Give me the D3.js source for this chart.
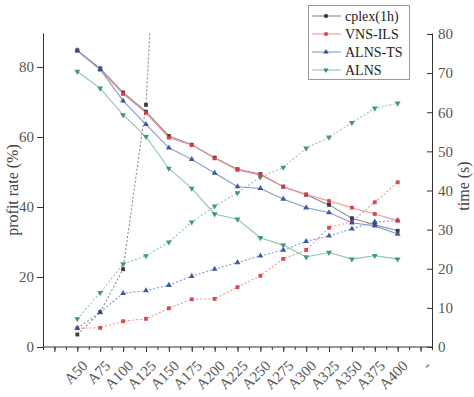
<!DOCTYPE html>
<html>
<head>
<meta charset="utf-8">
<script src="https://cdn.jsdelivr.net/npm/d3@7"></script>
<style>
  html, body { margin: 0; padding: 0; background: #fff; }
  svg text { font-family: "Liberation Serif", "DejaVu Serif", serif; }
</style>
</head>
<body>
<div id="chart"></div>
<script>
// data

const categories = ["A50", "A75", "A100", "A125", "A150", "A175", "A200", "A225",
    "A250", "A275", "A300", "A325", "A350", "A375", "A400"];

// profit rate (%) - left axis, solid lines
const profitCplex = [84.7, 79.6, 72.7, 67.2, 60.3, 57.8, 54.1, 50.8, 49.4, 45.8, 43.5, 40.6, 36.8, 34.9, 33.2];
const profitVNS = [84.7, 79.2, 72.3, 66.9, 59.8, 57.7, 53.9, 50.6, 49.1, 45.8, 43.6, 41.7, 39.8, 38.0, 36.1];
const profitALNSTS = [84.7, 79.3, 70.3, 63.6, 56.9, 53.6, 49.7, 45.8, 45.3, 42.3, 39.8, 38.4, 35.5, 34.6, 32.3];
const profitALNS = [78.7, 73.9, 66.3, 60.1, 51.0, 45.3, 38.0, 36.5, 31.2, 29.1, 25.7, 27.0, 25.1, 26.1, 25.1];

// time (s) - right axis, dotted lines (cplex runs off the top after A125)
const timeCplex = [3.2, 8.9, 19.9, 61.9, 170, null, null, null, null, null, null, null, null, null, null];
const timeVNS = [4.8, 4.9, 6.6, 7.2, 9.9, 12.2, 12.3, 15.3, 18.2, 22.5, 24.8, 30.5, 32.0, 37.0, 42.1];
const timeALNSTS = [4.8, 8.9, 13.7, 14.4, 15.8, 18.1, 19.9, 21.6, 23.3, 24.8, 27.0, 28.4, 30.2, 32.0, 32.3];
const timeALNS = [7.2, 13.9, 21.2, 23.3, 26.8, 31.9, 36.0, 39.4, 43.4, 45.9, 50.8, 53.6, 57.3, 61.0, 62.3];

const seriesNames = ["cplex(1h)", "VNS-ILS", "ALNS-TS", "ALNS"];
const leftTicks = [0, 20, 40, 60, 80];
const rightTicks = [0, 10, 20, 30, 40, 50, 60, 70, 80];

// style per series
const series = [
    { name: seriesNames[0], profit: profitCplex, time: timeCplex, line: "#8a8a8a", dot: "#2a2a2a", shape: d3.symbolSquare },
    { name: seriesNames[1], profit: profitVNS, time: timeVNS, line: "#ee9598", dot: "#d9373f", shape: d3.symbolSquare },
    { name: seriesNames[2], profit: profitALNSTS, time: timeALNSTS, line: "#8697cf", dot: "#2c4b9c", shape: d3.symbolTriangle },
    { name: seriesNames[3], profit: profitALNS, time: timeALNS, line: "#8fc6b1", dot: "#2e8f6b", shape: d3.symbolTriangle, flip: true }
];

const W = 474, H = 397;
const plot = { left: 43, right: 432, top: 33, bottom: 347 };

const svg = d3.select("#chart").append("svg")
    .attr("width", W).attr("height", H);

// index scale: half a step of padding plus one extra tick on the right
const x = d3.scaleLinear().domain([-1.5, 15.5]).range([plot.left, plot.right]);
const yL = d3.scaleLinear().domain([0, 89.7]).range([plot.bottom, plot.top]);
const yR = d3.scaleLinear().domain([0, 80.25]).range([plot.bottom, plot.top]);

svg.append("clipPath").attr("id", "clip")
    .append("rect")
    .attr("x", plot.left).attr("y", plot.top)
    .attr("width", plot.right - plot.left).attr("height", plot.bottom - plot.top);

const tickColor = "#555";

// x axis: minor ticks every half step, major ticks on categories
svg.append("g")
    .attr("transform", `translate(0,${plot.bottom})`)
    .call(d3.axisBottom(x).tickValues(d3.range(-1.5, 15.6, 0.5)).tickSize(3).tickFormat(""))
    .call(g => g.select(".domain").remove())
    .call(g => g.selectAll("line").attr("stroke", "#333"));

const xAxis = svg.append("g")
    .attr("transform", `translate(0,${plot.bottom})`)
    .call(d3.axisBottom(x).tickValues(d3.range(-1, 16, 1)).tickSize(5)
        .tickSizeOuter(0)
        .tickFormat(i => i < 0 ? "" : (i < categories.length ? categories[i] : "-")));
xAxis.select(".domain").attr("stroke", "#333").attr("d", `M${plot.left},0H${plot.right}`);
xAxis.selectAll("line").attr("stroke", "#333");
xAxis.selectAll("text")
    .attr("fill", tickColor)
    .style("font-size", "15px")
    .attr("text-anchor", "end")
    .attr("x", 0).attr("y", 0).attr("dy", "0.35em")
    .attr("transform", "translate(7,16) rotate(-45)");

// left axis
const leftAxis = svg.append("g")
    .attr("transform", `translate(${plot.left},0)`);
leftAxis.call(d3.axisLeft(yL).tickValues([10, 30, 50, 70]).tickSize(3).tickFormat(""));
leftAxis.call(d3.axisLeft(yL).tickValues(leftTicks).tickSize(6).tickSizeOuter(0));
leftAxis.selectAll(".domain").attr("stroke", "#333");
leftAxis.selectAll("line").attr("stroke", "#333");
leftAxis.selectAll("text").attr("fill", tickColor).style("font-size", "15px").attr("x", -9);

// right axis, ticks point inward
const rightAxis = svg.append("g")
    .attr("transform", `translate(${plot.right},0)`);
rightAxis.call(d3.axisRight(yR).tickValues(d3.range(5, 80, 10)).tickSize(-3).tickFormat(""));
rightAxis.call(d3.axisRight(yR).tickValues(rightTicks).tickSize(-5).tickSizeOuter(0));
rightAxis.selectAll(".domain").attr("stroke", "#333");
rightAxis.selectAll("line").attr("stroke", "#333");
rightAxis.selectAll("text").attr("fill", tickColor).style("font-size", "15px").attr("x", 6);

// axis titles
svg.append("text")
    .attr("transform", `translate(18,${(plot.top + plot.bottom) / 2}) rotate(-90)`)
    .attr("text-anchor", "middle")
    .style("font-size", "16px").attr("fill", "#444")
    .text("profit rate (%)");
svg.append("text")
    .attr("transform", `translate(469,${(plot.top + plot.bottom) / 2 - 4}) rotate(-90)`)
    .attr("text-anchor", "middle")
    .style("font-size", "16px").attr("fill", "#444")
    .text("time (s)");

const layer = svg.append("g").attr("clip-path", "url(#clip)");

function drawSeries(s, values, yScale, dashed) {
    const pts = values.map((v, i) => ({ i, v })).filter(d => d.v != null);
    const line = d3.line().x(d => x(d.i)).y(d => yScale(d.v));
    layer.append("path")
        .datum(pts)
        .attr("d", line)
        .attr("fill", "none")
        .attr("stroke", s.line)
        .attr("stroke-width", 1.1)
        .attr("stroke-dasharray", dashed ? "2,2" : null);
    layer.selectAll(null)
        .data(pts)
        .join("path")
        .attr("d", d3.symbol().type(s.shape).size(15))
        .attr("transform", d => `translate(${x(d.i)},${yScale(d.v)})${s.flip ? " rotate(180)" : ""}`)
        .attr("fill", s.dot)
        .attr("opacity", 0.9);
}

series.forEach(s => drawSeries(s, s.time, yR, true));
series.forEach(s => drawSeries(s, s.profit, yL, false));

// legend
const legend = svg.append("g");
legend.append("rect")
    .attr("x", 308.5).attr("y", 5.5).attr("width", 101).attr("height", 74)
    .attr("fill", "#fff").attr("stroke", "#999");
series.forEach((s, k) => {
    const ly = 16 + k * 18;
    legend.append("line")
        .attr("x1", 312).attr("x2", 341).attr("y1", ly).attr("y2", ly)
        .attr("stroke", s.line).attr("stroke-width", 1.1);
    legend.append("path")
        .attr("d", d3.symbol().type(s.shape).size(12))
        .attr("transform", `translate(326,${ly})${s.flip ? " rotate(180)" : ""}`)
        .attr("fill", s.dot);
    legend.append("text")
        .attr("x", 345).attr("y", ly).attr("dy", "0.35em")
        .style("font-size", "14px").attr("fill", "#222")
        .text(s.name);
});
</script>
</body>
</html>
